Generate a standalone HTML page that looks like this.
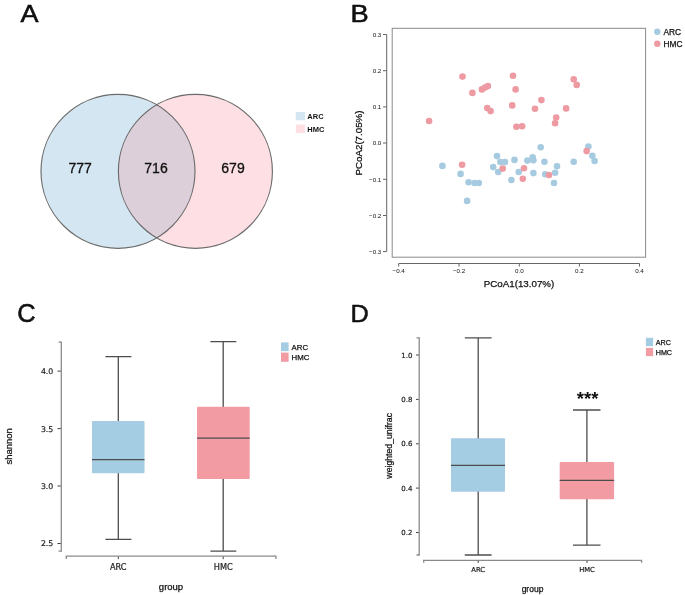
<!DOCTYPE html>
<html lang="en"><head><meta charset="utf-8"><title>Figure</title>
<style>html,body{margin:0;padding:0;background:#fff;}svg{display:block}text{font-family:"Liberation Sans", Arial, Helvetica, sans-serif;fill:#111}.d{font-family:"DejaVu Sans", Verdana, sans-serif;fill:#222;stroke:#222;stroke-width:0.2}.ax{stroke:#8a8a8a;stroke-width:1.3;fill:none}.tk{stroke:#444;stroke-width:1;fill:none}.k{stroke:#111;stroke-width:0.25}.axb{stroke:#666;stroke-width:1;fill:none}.wh{stroke:#4d4d4d;stroke-width:1.3;fill:none}.med{stroke:#4d4d4d;stroke-width:1.3}</style></head><body>
<svg width="685" height="595" viewBox="0 0 685 595">
<rect width="685" height="595" fill="#fff"/>
<text transform="translate(20.6 21.8) scale(1.09 1)" font-size="24.8" fill="#000" stroke="#000" stroke-width="0.5">A</text>
<text transform="translate(350.6 22.0) scale(1.1 1)" font-size="24.8" fill="#000" stroke="#000" stroke-width="0.5">B</text>
<text transform="translate(17.2 321.8) scale(0.96 1)" font-size="26.5" fill="#000" stroke="#000" stroke-width="0.5">C</text>
<text transform="translate(350.4 322.0) scale(1.02 1)" font-size="24.8" fill="#000" stroke="#000" stroke-width="0.5">D</text>
<defs><clipPath id="cl"><circle cx="118" cy="171.3" r="77"/></clipPath></defs>
<circle cx="118" cy="171.3" r="77" fill="#d4e6f1"/>
<circle cx="195.4" cy="171.3" r="77" fill="#fee0e4"/>
<circle cx="195.4" cy="171.3" r="77" fill="#dccfd9" clip-path="url(#cl)"/>
<circle cx="118" cy="171.3" r="77" fill="none" stroke="#6b6b6b" stroke-width="1.15"/>
<circle cx="195.4" cy="171.3" r="77" fill="none" stroke="#6b6b6b" stroke-width="1.15"/>
<text x="80.1" y="173.2" font-size="14" text-anchor="middle" fill="#111" stroke="#111" stroke-width="0.3">777</text>
<text x="156" y="173.2" font-size="14" text-anchor="middle" fill="#111" stroke="#111" stroke-width="0.3">716</text>
<text x="233" y="173.2" font-size="14" text-anchor="middle" fill="#111" stroke="#111" stroke-width="0.3">679</text>
<rect x="295.8" y="112" width="9.2" height="8.3" fill="#d4e6f1"/>
<rect x="295.8" y="124.5" width="9.2" height="8.5" fill="#fee0e4"/>
<text x="307.3" y="119" font-size="7.5" font-weight="bold" fill="#333">ARC</text>
<text x="307.3" y="131.6" font-size="7.5" font-weight="bold" fill="#333">HMC</text>
<rect x="392.2" y="28.3" width="253.4" height="228.9" fill="#fff" stroke="#8a8a8a" stroke-width="1"/>
<path class="axb" d="M386.7 34.5V251.6"/>
<path class="axb" d="M383 34.5H386.7"/>
<text x="381.3" y="36.8" font-size="6.2" text-anchor="end" fill="#111">0.3</text>
<path class="axb" d="M383 70.7H386.7"/>
<text x="381.3" y="73.0" font-size="6.2" text-anchor="end" fill="#111">0.2</text>
<path class="axb" d="M383 106.9H386.7"/>
<text x="381.3" y="109.2" font-size="6.2" text-anchor="end" fill="#111">0.1</text>
<path class="axb" d="M383 143H386.7"/>
<text x="381.3" y="145.3" font-size="6.2" text-anchor="end" fill="#111">0.0</text>
<path class="axb" d="M383 179.3H386.7"/>
<text x="381.3" y="181.60000000000002" font-size="6.2" text-anchor="end" fill="#111">−0.1</text>
<path class="axb" d="M383 215.5H386.7"/>
<text x="381.3" y="217.8" font-size="6.2" text-anchor="end" fill="#111">−0.2</text>
<path class="axb" d="M383 251.6H386.7"/>
<text x="381.3" y="253.9" font-size="6.2" text-anchor="end" fill="#111">−0.3</text>
<path class="axb" d="M398.7 263.5H639.5"/>
<path class="axb" d="M398.7 263.5V266.6"/>
<text x="398.7" y="273.3" font-size="6.2" text-anchor="middle" fill="#111">−0.4</text>
<path class="axb" d="M459 263.5V266.6"/>
<text x="459" y="273.3" font-size="6.2" text-anchor="middle" fill="#111">−0.2</text>
<path class="axb" d="M519.3 263.5V266.6"/>
<text x="519.3" y="273.3" font-size="6.2" text-anchor="middle" fill="#111">0.0</text>
<path class="axb" d="M579.4 263.5V266.6"/>
<text x="579.4" y="273.3" font-size="6.2" text-anchor="middle" fill="#111">0.2</text>
<path class="axb" d="M639.5 263.5V266.6"/>
<text x="639.5" y="273.3" font-size="6.2" text-anchor="middle" fill="#111">0.4</text>
<text class="k" x="519" y="287.2" font-size="9.75" text-anchor="middle" fill="#111">PCoA1(13.07%)</text>
<text class="k" transform="translate(361.9 143) rotate(-90)" font-size="9.75" text-anchor="middle" fill="#111">PCoA2(7.05%)</text>
<circle cx="442.4" cy="165.9" r="3.3" fill="#a6cbe0"/>
<circle cx="460.6" cy="173.9" r="3.3" fill="#a6cbe0"/>
<circle cx="468.6" cy="182.3" r="3.3" fill="#a6cbe0"/>
<circle cx="474.6" cy="183.0" r="3.3" fill="#a6cbe0"/>
<circle cx="478.8" cy="183.0" r="3.3" fill="#a6cbe0"/>
<circle cx="467.1" cy="200.9" r="3.3" fill="#a6cbe0"/>
<circle cx="493.2" cy="167.1" r="3.3" fill="#a6cbe0"/>
<circle cx="497.0" cy="156.1" r="3.3" fill="#a6cbe0"/>
<circle cx="500.4" cy="162.1" r="3.3" fill="#a6cbe0"/>
<circle cx="505.0" cy="162.1" r="3.3" fill="#a6cbe0"/>
<circle cx="498.2" cy="172.0" r="3.3" fill="#a6cbe0"/>
<circle cx="514.5" cy="159.9" r="3.3" fill="#a6cbe0"/>
<circle cx="518.7" cy="172.0" r="3.3" fill="#a6cbe0"/>
<circle cx="511.4" cy="180.0" r="3.3" fill="#a6cbe0"/>
<circle cx="527.4" cy="160.6" r="3.3" fill="#a6cbe0"/>
<circle cx="532.7" cy="157.2" r="3.3" fill="#a6cbe0"/>
<circle cx="533.4" cy="160.2" r="3.3" fill="#a6cbe0"/>
<circle cx="533.4" cy="173.1" r="3.3" fill="#a6cbe0"/>
<circle cx="540.7" cy="147.3" r="3.3" fill="#a6cbe0"/>
<circle cx="544.4" cy="161.8" r="3.3" fill="#a6cbe0"/>
<circle cx="545.2" cy="174.3" r="3.3" fill="#a6cbe0"/>
<circle cx="557.0" cy="166.3" r="3.3" fill="#a6cbe0"/>
<circle cx="555.1" cy="172.8" r="3.3" fill="#a6cbe0"/>
<circle cx="554.0" cy="183.0" r="3.3" fill="#a6cbe0"/>
<circle cx="573.7" cy="161.8" r="3.3" fill="#a6cbe0"/>
<circle cx="588.4" cy="146.6" r="3.3" fill="#a6cbe0"/>
<circle cx="592.3" cy="155.7" r="3.3" fill="#a6cbe0"/>
<circle cx="594.6" cy="161.0" r="3.3" fill="#a6cbe0"/>
<circle cx="462.5" cy="76.6" r="3.3" fill="#ee9aa2"/>
<circle cx="472.4" cy="92.9" r="3.3" fill="#ee9aa2"/>
<circle cx="481.9" cy="89.4" r="3.3" fill="#ee9aa2"/>
<circle cx="484.9" cy="87.6" r="3.3" fill="#ee9aa2"/>
<circle cx="487.9" cy="86.1" r="3.3" fill="#ee9aa2"/>
<circle cx="513.0" cy="75.8" r="3.3" fill="#ee9aa2"/>
<circle cx="515.6" cy="89.4" r="3.3" fill="#ee9aa2"/>
<circle cx="487.2" cy="108.1" r="3.3" fill="#ee9aa2"/>
<circle cx="490.6" cy="111.1" r="3.3" fill="#ee9aa2"/>
<circle cx="512.2" cy="105.4" r="3.3" fill="#ee9aa2"/>
<circle cx="541.4" cy="100.1" r="3.3" fill="#ee9aa2"/>
<circle cx="535.0" cy="108.8" r="3.3" fill="#ee9aa2"/>
<circle cx="573.7" cy="79.2" r="3.3" fill="#ee9aa2"/>
<circle cx="576.7" cy="84.9" r="3.3" fill="#ee9aa2"/>
<circle cx="566.1" cy="108.4" r="3.3" fill="#ee9aa2"/>
<circle cx="556.2" cy="117.6" r="3.3" fill="#ee9aa2"/>
<circle cx="555.1" cy="123.2" r="3.3" fill="#ee9aa2"/>
<circle cx="516.4" cy="126.7" r="3.3" fill="#ee9aa2"/>
<circle cx="522.1" cy="126.3" r="3.3" fill="#ee9aa2"/>
<circle cx="429.1" cy="121.0" r="3.3" fill="#ee9aa2"/>
<circle cx="462.1" cy="164.8" r="3.3" fill="#ee9aa2"/>
<circle cx="502.7" cy="168.6" r="3.3" fill="#ee9aa2"/>
<circle cx="524.0" cy="168.2" r="3.3" fill="#ee9aa2"/>
<circle cx="522.8" cy="178.8" r="3.3" fill="#ee9aa2"/>
<circle cx="549.0" cy="175.0" r="3.3" fill="#ee9aa2"/>
<circle cx="586.6" cy="151.1" r="3.3" fill="#ee9aa2"/>
<circle cx="657.3" cy="31.8" r="3.2" fill="#a6cbe0"/>
<circle cx="657.3" cy="43.7" r="3.2" fill="#ee9aa2"/>
<text class="k" x="663.4" y="34.8" font-size="8.4" fill="#111">ARC</text>
<text class="k" x="663.4" y="46.7" font-size="8.4" fill="#111">HMC</text>
<path class="ax" d="M58.5 342.1H61.3V551.2H58.5"/>
<path class="tk" d="M57.5 371.1H60.8"/>
<text class="d" x="53.3" y="374.0" font-size="7.8" text-anchor="end">4.0</text>
<path class="tk" d="M57.5 428.6H60.8"/>
<text class="d" x="53.3" y="431.5" font-size="7.8" text-anchor="end">3.5</text>
<path class="tk" d="M57.5 486H60.8"/>
<text class="d" x="53.3" y="488.9" font-size="7.8" text-anchor="end">3.0</text>
<path class="tk" d="M57.5 543.5H60.8"/>
<text class="d" x="53.3" y="546.4" font-size="7.8" text-anchor="end">2.5</text>
<path class="ax" d="M66.3 559V556.2H275.9V559"/>
<path class="tk" d="M118.3 556.7V559.2"/>
<text class="d" x="118.3" y="570.2" font-size="8.2" text-anchor="middle">ARC</text>
<path class="tk" d="M223.2 556.7V559.2"/>
<text class="d" x="223.2" y="570.2" font-size="8.2" text-anchor="middle">HMC</text>
<path class="wh" d="M105.4 356.7H131.4M118.3 356.7V539.3M105.4 539.3H131.4"/>
<rect x="92" y="421" width="52.5" height="52.2" rx="1" fill="#a4cce2"/>
<path class="med" d="M92 459.6H144.5"/>
<path class="wh" d="M210.4 341.6H236.3M223.2 341.6V551.2M210.4 551.2H236.3"/>
<rect x="197" y="406.7" width="52.7" height="72.3" rx="1" fill="#f29ba3"/>
<path class="med" d="M197 438.2H249.7"/>
<text class="k" x="171" y="590" font-size="9.5" text-anchor="middle" fill="#111">group</text>
<text class="k" transform="translate(12.2 446.4) rotate(-90)" font-size="9.5" text-anchor="middle" fill="#111">shannon</text>
<rect x="281" y="342.4" width="7.6" height="8.8" fill="#a4cce2"/>
<rect x="281" y="352.6" width="7.6" height="9.2" fill="#f29ba3"/>
<text class="k" x="291.6" y="349.8" font-size="7.8" fill="#111">ARC</text>
<text class="k" x="291.6" y="360.3" font-size="7.8" fill="#111">HMC</text>
<path class="ax" d="M416.5 337.8H419.2V555H416.5"/>
<path class="tk" d="M416 355H418.7"/>
<text class="d" x="412.5" y="357.6" font-size="7" text-anchor="end">1.0</text>
<path class="tk" d="M416 399.4H418.7"/>
<text class="d" x="412.5" y="402.0" font-size="7" text-anchor="end">0.8</text>
<path class="tk" d="M416 443.8H418.7"/>
<text class="d" x="412.5" y="446.40000000000003" font-size="7" text-anchor="end">0.6</text>
<path class="tk" d="M416 488.1H418.7"/>
<text class="d" x="412.5" y="490.70000000000005" font-size="7" text-anchor="end">0.4</text>
<path class="tk" d="M416 532.5H418.7"/>
<text class="d" x="412.5" y="535.1" font-size="7" text-anchor="end">0.2</text>
<path class="ax" d="M423.7 562.8V560.3H641.6V562.8"/>
<path class="tk" d="M478.2 560.8V563"/>
<text class="d" x="478.2" y="572.2" font-size="6.8" text-anchor="middle">ARC</text>
<path class="tk" d="M587 560.8V563"/>
<text class="d" x="587" y="572.2" font-size="6.8" text-anchor="middle">HMC</text>
<path class="wh" d="M464.8 337.8H491.6M478.2 337.8V555M464.8 555H491.6"/>
<rect x="451" y="438.2" width="54" height="53.5" rx="1" fill="#a4cce2"/>
<path class="med" d="M451 465.4H505"/>
<path class="wh" d="M573 410H600.5M586.9 410V545.1M573 545.1H600.5"/>
<rect x="559.7" y="461.9" width="54.4" height="37.3" rx="1" fill="#f29ba3"/>
<path class="med" d="M559.7 480.3H614.1"/>
<text x="587.6" y="404.6" font-size="18.5" font-weight="bold" text-anchor="middle" fill="#111">***</text>
<text class="k" x="532.5" y="592.2" font-size="8.5" text-anchor="middle" fill="#111">group</text>
<text class="k" transform="translate(392.1 445.8) rotate(-90)" font-size="8.7" text-anchor="middle" fill="#111">weighted_unifrac</text>
<rect x="645.9" y="337.8" width="7.2" height="8.4" fill="#a4cce2"/>
<rect x="645.9" y="347.9" width="7.2" height="8.2" fill="#f29ba3"/>
<text class="k" x="655.7" y="344.7" font-size="7.2" fill="#111">ARC</text>
<text class="k" x="655.7" y="354.8" font-size="7.2" fill="#111">HMC</text>
</svg></body></html>
